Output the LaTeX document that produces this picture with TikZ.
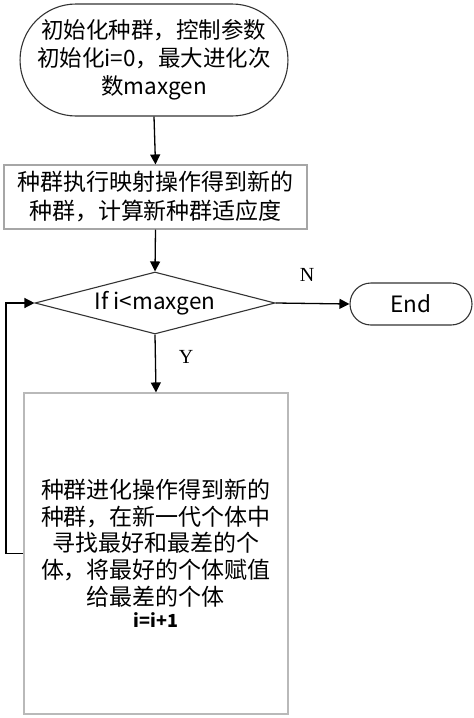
\documentclass[tikz,border=0pt]{standalone}
\usepackage{fontspec}
\setmainfont{Liberation Serif}
\newfontfamily\cjk{Noto Sans CJK SC}
\usetikzlibrary{shapes.geometric, shapes.misc, arrows.meta}

\begin{document}
\begin{tikzpicture}[x=1pt, y=-1pt,
    flow/.style={draw=black!80, line width=1.1pt, align=center, inner sep=0pt},
    procbox/.style={flow, draw=gray!70, rectangle, font=\cjk\fontsize{23}{29}\selectfont},
    terminal/.style={flow, rounded rectangle},
    arr/.style={-{Triangle[length=10pt, width=10pt]}, line width=1.3pt, black}]
    \useasboundingbox (0,0) rectangle (474,718);

    % Start
    \node[terminal, minimum width=248pt, minimum height=112pt,
          font=\cjk\fontsize{22.5}{28}\selectfont] (start) at (154,60)
        {初始化种群，控制参数\\初始化i=0，最大进化次\\数maxgen};

    % Mapping step
    \node[procbox, minimum width=303pt, minimum height=64pt] (map) at (155.5,197)
        {种群执行映射操作得到新的\\种群，计算新种群适应度};

    % Decision
    \node[flow, diamond, aspect=3.9, minimum width=240pt, minimum height=62pt,
          font=\cjk\fontsize{22.5}{26}\selectfont] (cond) at (155,303) {If i<maxgen};

    % End
    \node[terminal, minimum width=122pt, minimum height=42pt,
          font=\cjk\fontsize{22.5}{26}\selectfont] (end) at (411,304) {End};

    % Evolution step
    \node[procbox, draw=gray!55, minimum width=264pt, minimum height=321pt,
          font=\cjk\fontsize{23}{26.7}\selectfont] (evo) at (156,553.5)
        {种群进化操作得到新的\\种群，在新一代个体中\\寻找最好和最差的个\\体，将最好的个体赋值\\给最差的个体\\[-4pt]
         {\fontsize{18}{20}\selectfont\bfseries i=i+1}};

    % Branch labels
    \node[font=\fontsize{20}{24}\selectfont] (nlab) at (307,275) {N};
    \node[font=\fontsize{20}{24}\selectfont] (ylab) at (186,357) {Y};

    % Connectors
    \coordinate (loop) at (6,553.5);
    \draw[arr] (start.south) -- (map.north);
    \draw[arr] (map.south) -- (cond.north);
    \draw[arr] (cond.east) -- (end.west);
    \draw[arr] (cond.south) -- (evo.north);
    \draw[arr] (evo.west) -- (loop) |- (cond.west);
\end{tikzpicture}
\end{document}
